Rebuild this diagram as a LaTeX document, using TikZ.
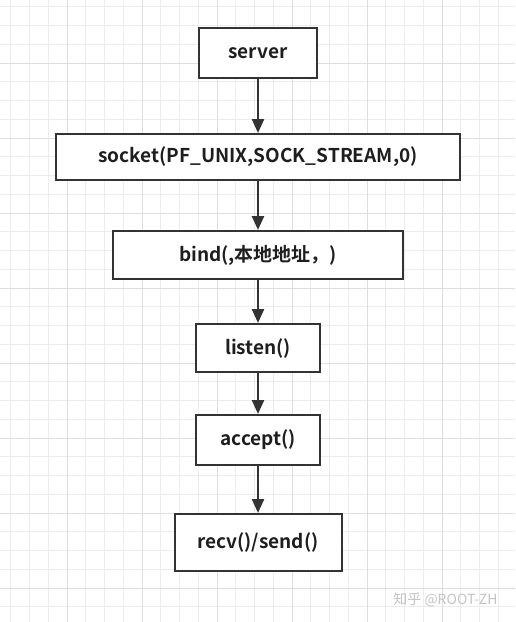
\documentclass[tikz,border=0pt]{standalone}
\usepackage{fontspec}
\usepackage{xcolor}
\usetikzlibrary{arrows.meta,positioning}
\setmainfont{Noto Sans CJK SC}[BoldFont={Noto Sans CJK SC Bold}]
\definecolor{corlinha}{RGB}{51,51,51}
\definecolor{cortexto}{RGB}{30,30,30}
\definecolor{corgrade}{RGB}{236,236,236}
\definecolor{corgradeforte}{RGB}{222,222,222}
\definecolor{cormarca}{RGB}{196,196,196}

\begin{document}
\begin{tikzpicture}[
  x=1pt, y=-1pt,
  caixa/.style={rectangle, draw=corlinha, line width=2pt, fill=white,
                align=center, inner sep=0pt, text=cortexto,
                font=\fontsize{19}{22}\selectfont\bfseries},
  seta/.style={-{Triangle[length=14pt, width=12pt]}, line width=2.4pt, color=corlinha}
]
  % fundo quadriculado
  \useasboundingbox (0,0) rectangle (515,622);
  \fill[white] (0,0) rectangle (515,622);
  \foreach \i in {0,...,27} {
    \draw[corgrade, line width=0.8pt] (10.75+18.75*\i,0) -- (10.75+18.75*\i,622);
  }
  \foreach \j in {0,...,33} {
    \draw[corgrade, line width=0.8pt] (0,6.75+18.75*\j) -- (515,6.75+18.75*\j);
  }
  \foreach \i in {0,...,6} {
    \draw[corgradeforte, line width=0.8pt] (67+75*\i,0) -- (67+75*\i,622);
  }
  \foreach \j in {0,...,7} {
    \draw[corgradeforte, line width=0.8pt] (0,63+75*\j) -- (515,63+75*\j);
  }

  \node[caixa, minimum width=118pt, minimum height=50pt] (server) at (258,53) {server};
  \node[caixa, minimum width=404pt, minimum height=46pt, below=54pt of server] (socket) {socket(PF\_UNIX,SOCK\_STREAM,0)};
  \node[caixa, minimum width=290pt, minimum height=48pt, below=49pt of socket] (bind) {bind(,本地地址，)};
  \node[caixa, minimum width=124pt, minimum height=48pt, below=43pt of bind] (listen) {listen()};
  \node[caixa, minimum width=124pt, minimum height=50pt, below=41pt of listen] (accept) {accept()};
  \node[caixa, minimum width=167pt, minimum height=57pt, below=47pt of accept] (recv) {recv()/send()};

  \draw[seta] (server) -- (socket);
  \draw[seta] (socket) -- (bind);
  \draw[seta] (bind) -- (listen);
  \draw[seta] (listen) -- (accept);
  \draw[seta] (accept) -- (recv);

  \node[text=cormarca, font=\fontsize{14}{16}\selectfont, anchor=east] (marca) at (501,600) {知乎 @ROOT-ZH};
\end{tikzpicture}
\end{document}
